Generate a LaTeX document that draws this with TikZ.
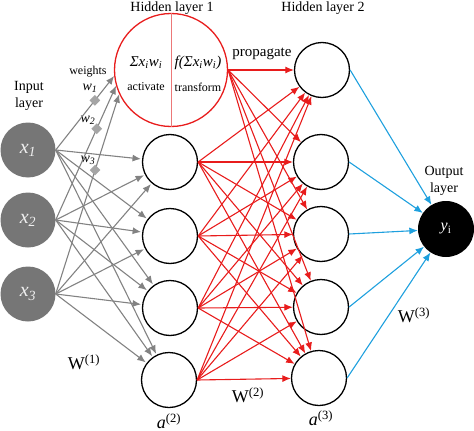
\documentclass[tikz,border=0pt]{standalone}
\usepackage{fontspec}
\setmainfont{Liberation Serif}
\usetikzlibrary{arrows.meta}
\definecolor{gr}{RGB}{130,130,130}
\definecolor{ingray}{RGB}{118,118,118}
\definecolor{diagray}{RGB}{165,165,165}
\definecolor{nred}{RGB}{232,28,28}
\definecolor{divred}{RGB}{236,120,120}
\definecolor{nblue}{RGB}{30,160,222}
\tikzset{
  inp/.style={circle, fill=ingray, minimum size=55pt, inner sep=0pt, text=white!88!gray, font=\fontsize{20}{20}\selectfont\itshape},
  hid/.style={circle, draw=black, fill=white, line width=1.3pt, minimum size=55pt, inner sep=0pt},
  bigc/.style={circle, draw=nred, fill=white, line width=1.3pt, minimum size=113pt, inner sep=0pt},
  outn/.style={circle, fill=black, minimum size=56pt, inner sep=0pt, text=white, font=\fontsize{16}{16}\selectfont},
  garr/.style={draw=gr, line width=1.1pt, -{Latex[length=8.5pt,width=7pt]}},
  rarr/.style={draw=nred, line width=1.1pt, -{Latex[length=8.5pt,width=7pt]}},
  barr/.style={draw=nblue, line width=1.1pt, -{Latex[length=8.5pt,width=7pt]}},
  lbl/.style={font=\fontsize{14}{17}\selectfont, align=center, inner sep=0pt},
  small/.style={font=\fontsize{12}{14}\selectfont, inner sep=0pt},
  wlbl/.style={font=\fontsize{18}{18}\selectfont, inner sep=0pt},
  wsym/.style={font=\fontsize{14}{14}\selectfont\itshape, inner sep=0pt},
  dia/.style={rectangle, fill=diagray, minimum size=7.5pt, inner sep=0pt, rotate=45},
}
\begin{document}
\begin{tikzpicture}[x=1pt,y=-1pt]
\useasboundingbox (0,0) rectangle (474,431);
% nodes
\node[inp] (in1) at (28,150) {x\textsubscript{1}};
\node[inp] (in2) at (28,220) {x\textsubscript{2}};
\node[inp] (in3) at (28,294) {x\textsubscript{3}};
\node[bigc] (big) at (171,70) {};
\draw[divred, line width=1pt] (big.north) -- (big.south);
\node[hid] (h1a) at (170,162) {};
\node[hid] (h1b) at (170,236) {};
\node[hid] (h1c) at (170,308) {};
\node[hid] (h1d) at (169,380) {};
\node[hid] (h2a) at (322,70) {};
\node[hid] (h2b) at (321,162) {};
\node[hid] (h2c) at (321,234) {};
\node[hid] (h2d) at (321,307) {};
\node[hid] (h2e) at (319,378) {};
\node[outn] (out) at (446,229) {\textit{y}\textsubscript{i}};
% text in big circle
\node[inner sep=0pt, font=\fontsize{15}{15}\selectfont\itshape] (sum) at (146,63) {Σx\textsubscript{i}w\textsubscript{i}};
\node[small] (act) at (146,87) {activate};
\node[inner sep=0pt, font=\fontsize{15}{15}\selectfont\itshape] (fsum) at (198,63) {f(Σx\textsubscript{i}w\textsubscript{i})};
\node[small] (trf) at (198,87) {transform};
% labels
\node[lbl] (hl1) at (172,8) {Hidden layer 1};
\node[lbl] (hl2) at (323,8) {Hidden layer 2};
\node[lbl] (il) at (29,96) {Input\\layer};
\node[lbl] (ol) at (444,181) {Output\\layer};
\node[font=\fontsize{15}{15}\selectfont, inner sep=0pt] (prop) at (262,54) {propagate};
\node[small] (wts) at (88,72) {weights};
\node[wsym] (w1) at (90,88) {w\textsubscript{1}};
\node[wsym] (w2) at (88,120) {w\textsubscript{2}};
\node[wsym] (w3) at (88,160) {w\textsubscript{3}};
\node[wlbl] (W1) at (84,362) {W\textsuperscript{(1)}};
\node[wlbl] (W2) at (248,395) {W\textsuperscript{(2)}};
\node[wlbl] (W3) at (414,315) {W\textsuperscript{(3)}};
\node[wlbl] (a2) at (169,421) {\textit{a}\textsuperscript{(2)}};
\node[wlbl] (a3) at (321,418) {\textit{a}\textsuperscript{(3)}};
% gray connectors
\draw[garr] (in1.east) -- node[dia, pos=0.67] (d1) {} (big.186);
\draw[garr] (in2.east) -- node[dia, pos=0.68] (d2) {} (big.196);
\draw[garr] (in3.east) -- node[dia, pos=0.62] (d3) {} (big.205);
\foreach \s in {in1,in2,in3}
  \foreach \t in {h1a,h1b,h1c,h1d}
    \draw[garr, shorten >=1pt] (\s.east) -- (\t);
% red connectors
\foreach \s in {big,h1a,h1b,h1c,h1d}
  \foreach \t in {h2a,h2b,h2c,h2d,h2e}
    \draw[rarr] (\s.east) -- (\t);
% blue connectors
\foreach \s in {h2a,h2b,h2c,h2d,h2e}
  \draw[barr] (\s.east) -- (out);
\end{tikzpicture}
\end{document}
